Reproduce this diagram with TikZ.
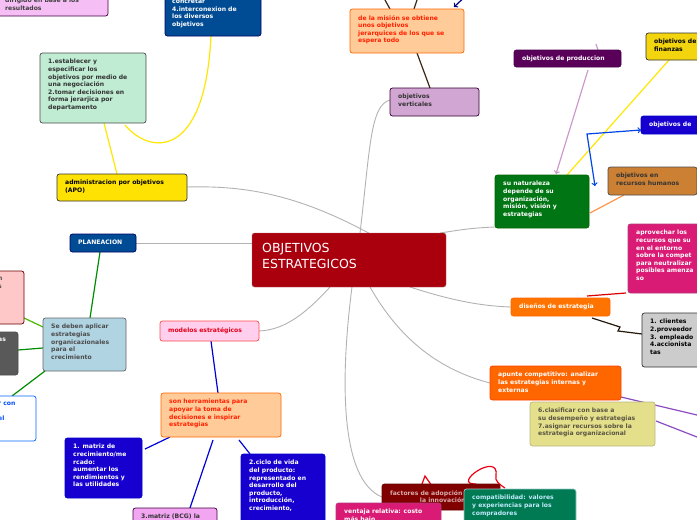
\documentclass[tikz,border=0pt]{standalone}
\usepackage{fontspec}
\setmainfont{DejaVu Sans}
\usetikzlibrary{calc}
\begin{document}
\begin{tikzpicture}[x=1pt,y=-1pt,
 gl/.style={draw=gray!60,line width=0.9pt},
 cl/.style={line width=1.2pt}]
\useasboundingbox (0,0) rectangle (697,520);
\clip (0,0) rectangle (697,520);
\def\B#1#2#3#4#5#6#7#8#9{\path[draw=#7,fill=#6,rounded corners=2.5pt,line width=0.7pt] (#2,#3) rectangle (#4,#5);
 \node[anchor=north west,align=left,inner sep=0pt,text=#8,font=\bfseries\fontsize{6.1}{7.6}\selectfont] (#1) at ([xshift=8,yshift=-6]#2,#3) {#9};}
% connectors
\draw[gl] (418,262) .. controls (320,200) and (260,185) .. (187,187);
\draw[gl] (252,243) -- (136,243);
\draw[gl] (360,233) .. controls (370,150) and (370,105) .. (390,100);
\draw[gl] (440,233) .. controls (460,230) and (470,228) .. (495,227);
\draw[gl] (330,287) .. controls (300,320) and (280,330) .. (259,331);
\draw[gl] (410,287) .. controls (450,300) and (480,306) .. (511,307);
\draw[gl] (370,287) .. controls (400,340) and (440,370) .. (490,383);
\draw[gl] (352,287) .. controls (340,380) and (340,480) .. (382,497);
\draw[cl,yellow!90!orange] (117,174) -- (104,123);
\draw[cl,yellow!90!orange] (125,125) .. controls (150,155) and (205,160) .. (211,36);
\draw[cl,yellow!90!orange] (158,-5) -- (165,0);
\draw[cl,green!55!black] (90,318) -- (100,252);
\draw[cl,green!60!black!70!yellow] (43,327) -- (24,318);
\draw[cl,green!55!black] (43,348) -- (18,350);
\draw[cl,green!55!black] (45,371) -- (12,396);
\draw[cl,blue!85!black] (211,341) -- (218,393);
\draw[cl,blue!85!black] (170,437) -- (145,449);
\draw[cl,blue!85!black] (213,440) -- (190,508);
\draw[cl,blue!85!black] (239,440) -- (250,454);
\draw[cl,black!70!brown] (430,88) -- (417,53);
\draw[cl,black!70!brown] (390,9) -- (385,0);
\draw[cl,black!70!brown] (414,9) -- (417,0);
\draw[cl,blue!50!black,->] (470,-8) -- (454,7);
\draw[cl,violet!40,->] (588,70) -- (556,174);
\draw[cl,violet!40] (596,44) -- (598,50);
\draw[cl,yellow!90!orange] (669,60) -- (567,175);
\draw[cl,blue!70!cyan!90!black,<->] (595,186) -- (587,134) -- (641,130);
\draw[cl,orange!80!red!70] (590,213) -- (624,195);
\draw[cl,red!85!black] (587,296) -- (626,293);
\draw[cl,black!80!brown] (592,318) -- (620,327) -- (618,331) -- (642,334);
\draw[cl,violet!70!blue!70] (621,397) -- (697,415);
\draw[cl,violet!70!blue!70] (656,421) -- (697,437);
\draw[cl,red!70!purple] (422,484) -- (425,476) -- (432,486);
\draw[cl,red!70!purple] (476,484) .. controls (450,485) and (500,450) .. (496,476) .. controls (494,480) and (500,485) .. (505,488);
% boxes
\path[fill=violet!30!magenta!25,draw=violet!50!black,rounded corners=2.5pt,line width=0.7pt] (-5,-10) rectangle (108,16);
\node[anchor=north west,align=left,inner sep=0pt,text=black!75,font=\bfseries\fontsize{6.1}{7.6}\selectfont] (a) at (5,-2) {dirigido en base a los\\resultados};
\path[draw=blue!40!black,fill=blue!40!black!70!cyan,rounded corners=2.5pt,line width=0.7pt] (165,-20) rectangle (261,36);
\node[anchor=north west,align=left,inner sep=0pt,text=white,font=\bfseries\fontsize{6.1}{7.6}\selectfont] (b) at (172,-1) {concretar\\4.interconexion de\\los diversos\\objetivos};
\B{c}{40}{53}{146}{123}{green!40!teal!25!white}{black!70}{black!80}{1.establecer y\\especificar los\\objetivos por medio de\\una negociación\\2.tomar decisiones en\\forma jerarjica por\\departamento}
\B{apo}{57}{174}{187}{201}{yellow!85!orange}{black!80}{black}{administracion por objetivos\\(APO)}
\B{pl}{70}{234}{136}{252}{blue!40!black!70!cyan}{blue!40!black}{white}{PLANEACION}
\path[fill=red!70!black!95!blue,draw=red!50!black!60,rounded corners=2.5pt] (252,233) rectangle (446,287);
\node[anchor=north west,align=left,inner sep=0pt,text=white,font=\fontsize{12.5}{16}\selectfont] (main) at (262,243) {OBJETIVOS\\ESTRATEGICOS};
\B{l1}{-10}{271}{24}{324}{red!15!pink!60}{red!40!black}{black!70}{n\\s}
\B{l2}{-10}{332}{18}{375}{black!65}{black!70}{white}{as\\l}
\B{l3}{-10}{396}{36}{441}{white}{blue!60!cyan}{blue!70!cyan}{r con\\\\el}
\B{sd}{43}{318}{126}{371}{cyan!35!teal!35!white}{black!60}{black!70}{Se deben aplicar\\estrategias\\organicazionales\\para el\\crecimiento}
\B{me}{160}{321}{259}{341}{pink!70!magenta!40}{red!60!pink}{red!60!purple}{modelos estratégicos}
\B{sh}{161}{393}{281}{437}{orange!40!white}{orange!80!red}{red!75!orange}{son herramientas para\\apoyar la toma de\\decisiones e inspirar\\estrategias}
\B{m1}{65}{438}{142}{498}{blue!80!violet!90!black}{blue!80!black}{white}{1. matriz de\\crecimiento/me\\rcado:\\aumentar los\\rendimientos y\\las utilidades}
\B{m2}{241}{454}{325}{530}{blue!80!violet!90!black}{blue!80!black}{white}{2.ciclo de vida\\del producto:\\representado en\\desarrollo del\\producto,\\introducción,\\crecimiento,}
\B{m3}{133}{508}{217}{530}{violet!30!magenta!35}{violet!50!black}{black!80}{3.matriz (BCG) la}
\B{dm}{350}{9}{464}{53}{orange!40!white}{orange!80!red}{red!75!orange}{de la misión se obtiene\\unos objetivos\\jerarquices de los que se\\espera todo}
\B{ov}{390}{88}{479}{116}{violet!35!white}{violet!40!black}{black!80}{objetivos\\verticales}
\B{op}{514}{50}{621}{67}{violet!70!black}{violet!60!black}{white}{objetivos de produccion}
\B{of}{646}{33}{710}{60}{yellow!80!orange!95!black}{black!80}{black}{objetivos de\\finanzas}
\B{ob}{641}{116}{710}{134}{blue!80!violet!90!black}{blue!80!black}{white}{objetivos de}
\B{sn}{495}{175}{589}{228}{green!45!black!85!teal}{green!40!black}{white}{su naturaleza\\depende de su\\organización,\\misión, visión y\\estrategias}
\B{rh}{608}{167}{697}{195}{brown!80!orange}{black!70}{black!80}{objetivos en\\recursos humanos}
\B{ap}{628}{224}{710}{293}{magenta!80!red!90!black}{magenta!70!black}{white}{aprovechar los\\recursos que su\\en el entorno\\sobre la compet\\para neutralizar\\posibles amenza\\so}
\B{de}{511}{298}{610}{316}{orange!85!red!95!yellow}{orange!80!red}{white}{diseños de estrategia}
\B{cl}{642}{313}{710}{367}{black!20}{black!80}{black}{1. clientes\\2.proveedor\\3. empleado\\4.accionista\\tas}
\B{ac}{490}{366}{621}{400}{red!20!orange!100}{red!50!orange}{white}{apunte competitivo: analizar\\las estrategias internas y\\externas}
\B{cs}{530}{402}{655}{446}{yellow!45!white!88!black}{black!50!yellow!60}{black!75!yellow}{6.clasificar con base a\\su desempeño y estrategias\\7.asignar recursos sobre la\\estrategia organizacional}
\B{fa}{382}{484}{500}{510}{red!50!black}{red!40!black}{pink!70!gray}{factores de adopción de\\ \ \ \ \ \ \ \ \ \ \ \ \ \ \ la innovación}
\B{co}{464}{489}{576}{530}{teal!80!green!80!black}{teal!40!white}{cyan!25!white}{compatibilidad: valores\\y experiencias para los\\compradores}
\B{vr}{336}{503}{441}{530}{magenta!80!red!90!black}{magenta!70!black}{white}{ventaja relativa: costo\\más bajo}
\end{tikzpicture}
\end{document}
